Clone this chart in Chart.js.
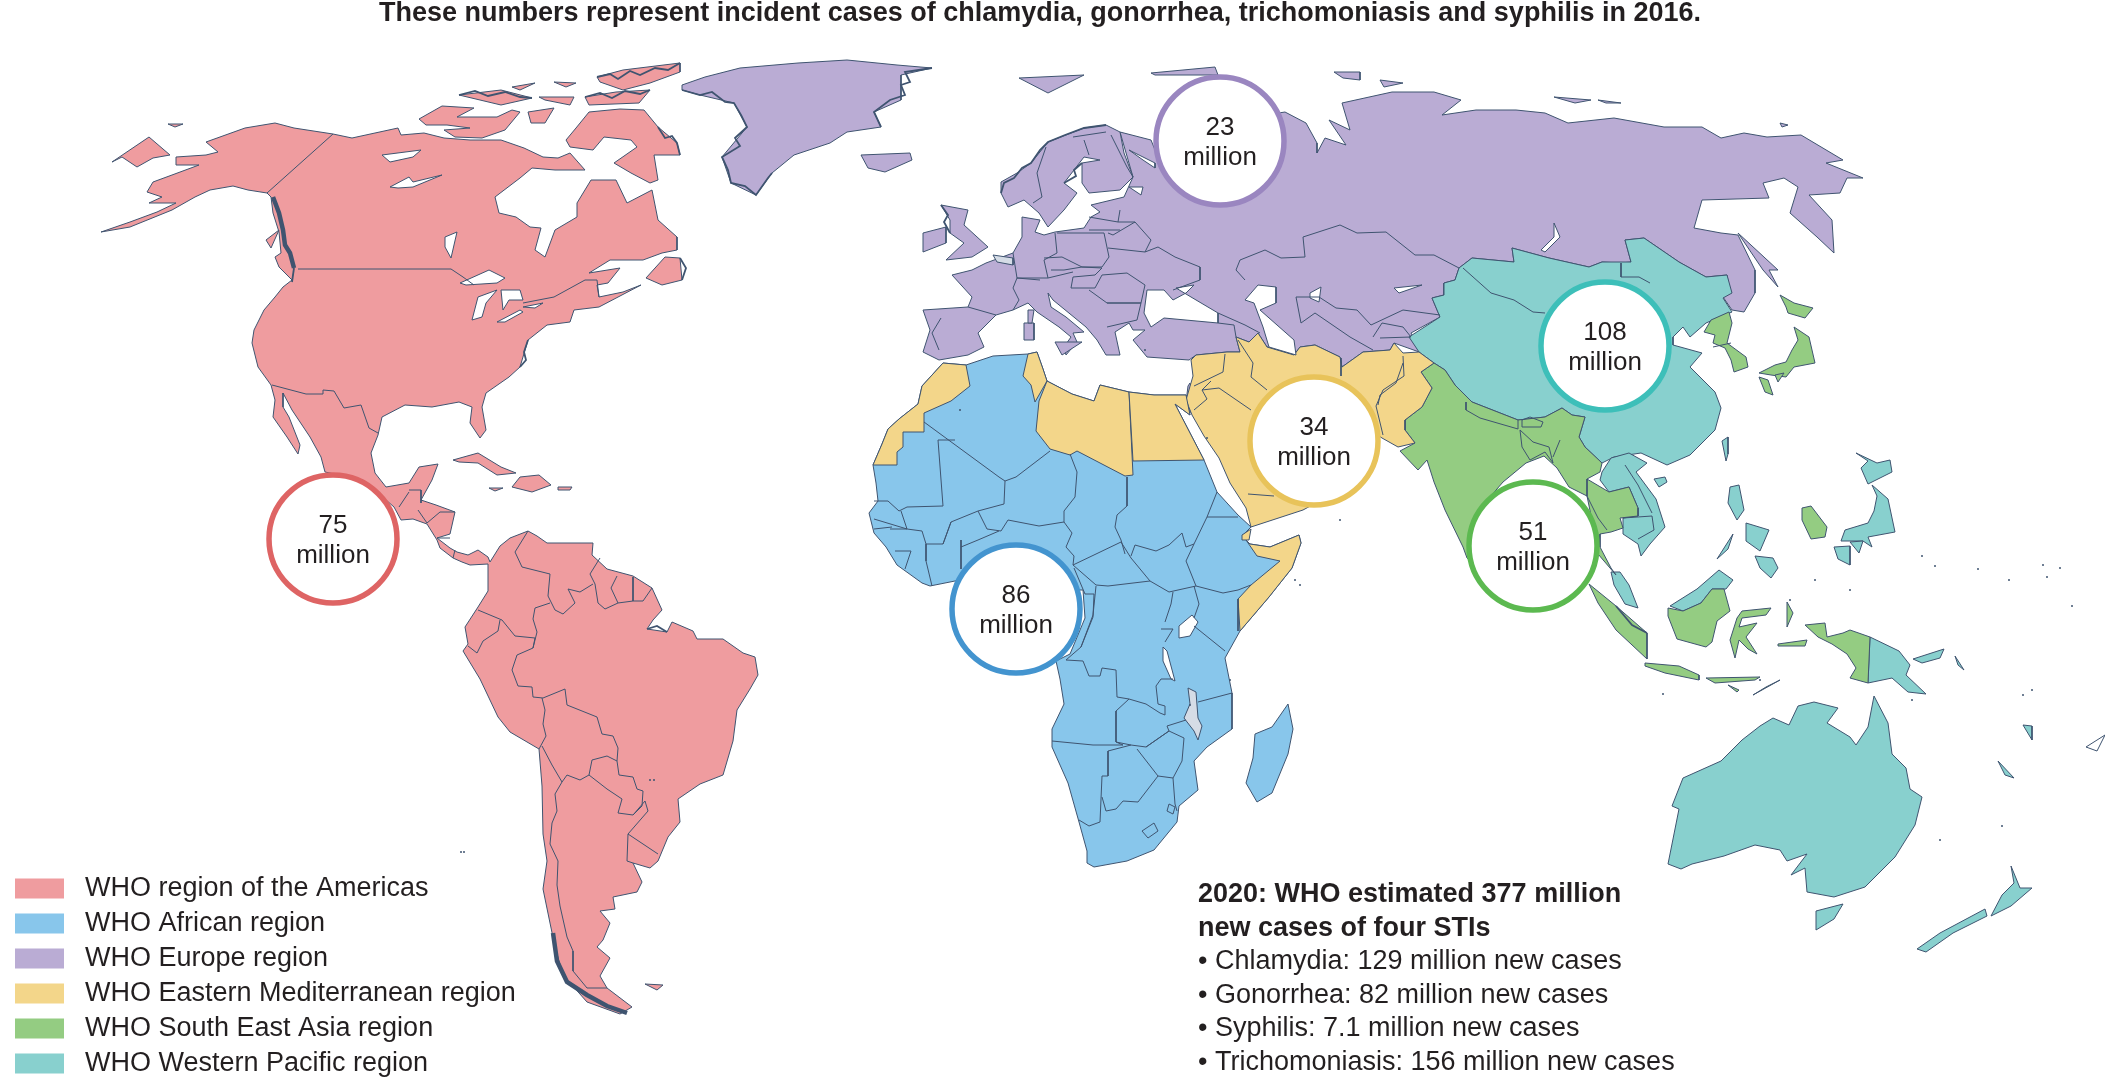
<!DOCTYPE html>
<html>
<head>
<meta charset="utf-8">
<style>
  html, body { margin: 0; padding: 0; background: #fff; height: 1077px; overflow: hidden; }
  canvas { display: block; }
</style>
<script src="https://cdn.jsdelivr.net/npm/chart.js@4/dist/chart.umd.min.js"></script>
</head>
<body>
<canvas id="mapChart" width="2105" height="1112"></canvas>
<script>
const titleText = 'These numbers represent incident cases of chlamydia, gonorrhea, trichomoniasis and syphilis in 2016.';
const regionLabels = ['WHO region of the Americas', 'WHO African region', 'WHO Europe region', 'WHO Eastern Mediterranean region', 'WHO South East Asia region', 'WHO Western Pacific region'];
const circleValues = [75, 86, 23, 34, 51, 108];
const circleX = [333, 1016, 1220, 1314, 1533, 1605];
const circleY = [539, 609, 141, 441, 546, 346];
const noteHeading = ['2020: WHO estimated 377 million', 'new cases of four STIs'];
const noteLines = ['• Chlamydia: 129 million new cases', '• Gonorrhea: 82 million new cases', '• Syphilis: 7.1 million new cases', '• Trichomoniasis: 156 million new cases'];

const americasShapes = [
  [101,232,130,222,157,212,176,203,149,203,162,197,147,192,153,182,172,175,199,165,176,165,176,157,206,155,218,152,206,142,245,128,275,123,294,128,333,134,352,138,398,128,401,135,424,133,444,138,470,140,501,140,524,148,543,157,558,158,570,153,585,170,555,170,532,168,520,178,495,197,499,213,516,217,530,227,541,228,535,250,545,257,555,230,577,217,577,203,591,180,616,180,627,203,652,190,658,220,677,237,677,250,662,253,643,260,610,260,589,273,620,268,608,283,597,285,599,297,623,292,641,285,599,307,574,310,570,322,547,325,528,340,520,367,509,377,486,393,482,407,486,430,480,438,470,423,472,407,459,402,432,407,405,405,382,417,378,435,371,453,375,473,386,487,409,483,419,467,438,464,432,480,421,500,436,505,455,512,450,534,437,538,450,548,457,552,468,555,478,550,488,557,490,562,500,546,510,538,528,531,537,536,547,543,573,543,593,543,592,555,607,569,633,576,652,588,662,610,653,620,647,629,667,632,672,622,693,631,697,639,723,639,743,653,755,657,758,675,750,689,737,710,733,741,723,775,700,784,678,799,680,822,668,837,658,861,650,868,633,863,642,882,637,892,613,897,615,909,600,911,610,923,603,940,597,947,610,958,600,976,607,988,632,1007,620,1014,587,1002,563,975,555,947,550,923,543,889,547,861,543,834,542,786,539,749,510,732,498,717,480,679,463,651,468,644,465,627,478,607,488,591,488,564,470,565,462,562,453,558,440,548,437,540,427,524,413,519,401,520,394,507,363,480,325,472,321,457,310,437,292,410,283,393,283,407,289,417,300,445,298,454,287,437,273,417,275,400,271,385,258,367,252,343,254,330,264,310,275,297,283,287,292,280,279,267,275,257,281,253,279,232,273,213,271,197,267,193,248,190,233,186,210,190,195,197,172,210,130,227],
  [576,128,589,112,620,109,644,110,658,127,677,143,680,155,669,155,654,155,658,180,650,183,631,173,614,163,637,147,631,140,604,137,593,150,570,147,566,140],
  [419,119,442,106,474,108,457,117,497,117,512,110,520,112,505,130,482,138,455,137,444,130,470,128,447,125,426,125],
  [528,112,554,108,545,123,531,123],
  [597,77,623,70,680,63,680,72,650,83,623,90,600,82],
  [585,97,616,92,650,90,639,103,589,105],
  [459,95,501,90,532,98,501,105],
  [554,82,576,83,566,87],
  [512,87,535,83,520,90],
  [539,97,574,97,570,105,545,100],
  [646,278,665,257,680,258,682,280,662,285],
  [112,162,149,137,170,155,153,158,137,167,122,157],
  [168,124,183,124,175,127],
  [266,240,279,230,271,248],
  [453,460,478,453,501,467,516,473,497,475,478,463,459,462],
  [520,477,539,475,551,485,532,492,512,487],
  [489,488,503,488,495,491],
  [558,487,572,487,570,490,558,490],
  [645,984,663,985,657,990]
];
const africaShapes = [
  [873,465,882,444,888,429,899,419,918,404,922,386,943,363,966,365,993,356,1028,354,1037,352,1043,369,1047,381,1072,394,1094,401,1100,385,1129,392,1154,395,1186,395,1190,415,1175,404,1204,460,1217,492,1238,515,1251,527,1242,536,1250,544,1270,547,1299,535,1301,543,1292,568,1269,597,1240,631,1225,658,1232,693,1232,729,1207,747,1194,761,1198,790,1179,806,1177,822,1154,850,1127,861,1094,867,1087,863,1087,851,1079,822,1068,783,1052,747,1052,729,1064,704,1060,679,1056,661,1070,654,1085,618,1083,590,1050,590,1010,575,955,581,930,586,922,583,897,565,886,547,874,533,869,513,878,501,876,483],
  [1288,704,1293,729,1288,754,1272,793,1257,802,1246,783,1253,758,1255,734,1272,727]
];
const europeShapes = [
  [923,310,968,307,972,297,952,275,972,270,986,263,1013,253,1022,237,1022,217,1040,220,1035,232,1044,235,1055,232,1084,228,1091,217,1100,212,1091,205,1124,197,1133,177,1120,132,1151,140,1155,150,1170,130,1285,112,1306,123,1317,143,1317,153,1325,138,1346,145,1329,120,1350,130,1342,103,1392,92,1434,92,1461,100,1442,115,1476,110,1516,110,1545,113,1568,123,1614,118,1664,127,1702,127,1721,138,1744,133,1767,137,1801,135,1843,160,1826,163,1863,178,1847,178,1840,193,1809,195,1832,220,1834,253,1817,237,1790,213,1798,187,1784,178,1763,183,1769,198,1702,200,1694,228,1721,233,1738,235,1755,270,1755,293,1744,312,1732,310,1723,297,1730,293,1727,275,1706,277,1679,262,1644,238,1625,240,1631,262,1620,263,1602,262,1589,267,1549,258,1512,248,1514,262,1472,258,1459,268,1455,280,1444,283,1444,295,1432,298,1440,317,1411,333,1422,353,1394,343,1390,350,1363,352,1342,367,1340,357,1315,345,1300,347,1294,355,1267,347,1258,333,1249,342,1236,337,1240,352,1227,352,1196,355,1189,360,1147,357,1133,340,1145,330,1133,330,1129,323,1115,332,1120,355,1106,355,1097,340,1086,327,1053,300,1048,293,1051,307,1066,317,1084,332,1073,333,1077,342,1066,355,1064,347,1071,337,1059,327,1037,312,1028,303,1013,310,996,315,978,333,984,347,968,355,939,360,923,352,930,330],
  [1001,182,1017,173,1031,163,1048,142,1084,128,1106,125,1120,132,1124,153,1133,177,1120,190,1089,193,1082,183,1082,163,1100,160,1084,157,1064,183,1077,193,1064,210,1048,227,1039,213,1024,200,1008,207,1001,193],
  [682,85,705,77,740,68,798,63,847,60,897,65,932,68,901,75,901,100,874,112,881,127,847,132,830,143,794,155,772,173,756,195,731,183,722,157,747,127,734,103,700,95,682,90],
  [861,155,910,153,912,160,885,172,868,168],
  [941,205,968,210,964,225,988,247,972,257,946,260,964,243,950,233,950,220],
  [923,233,946,227,946,243,923,252],
  [1019,78,1084,75,1048,93],
  [1151,73,1215,67,1218,75,1155,75],
  [1055,342,1082,342,1062,355],
  [1024,323,1034,323,1034,340,1024,340],
  [1028,310,1034,310,1032,323,1028,323],
  [1738,233,1778,270,1769,270,1778,287,1763,270],
  [1188,386,1190,383,1192,392,1190,413,1186,402],
  [1554,97,1591,100,1575,103],
  [1598,100,1621,103,1606,103],
  [1380,80,1403,83,1384,87],
  [1334,72,1360,72,1360,80,1343,78],
  [1780,123,1788,125,1782,127]
];
const emroShapes = [
  [1193,376,1191,360,1196,355,1227,352,1240,352,1236,337,1249,342,1258,333,1267,347,1294,355,1300,347,1315,345,1340,357,1342,367,1363,352,1390,350,1394,343,1403,353,1419,352,1434,363,1421,372,1432,388,1422,407,1405,420,1405,430,1415,443,1398,447,1382,438,1370,430,1330,420,1300,440,1330,470,1340,490,1303,510,1251,527,1246,508,1230,483,1219,458,1204,436,1192,415,1186,400],
  [873,465,897,465,897,452,903,447,903,432,924,432,924,413,951,401,970,386,966,365,943,363,922,386,918,404,899,419,888,429,882,444],
  [1037,352,1043,369,1047,381,1035,402,1031,385,1023,376,1028,354],
  [1047,381,1072,394,1094,401,1100,385,1129,392,1133,475,1125,476,1077,451,1070,455,1050,449,1036,431,1039,401],
  [1129,392,1154,395,1186,395,1190,415,1175,404,1204,460,1133,461],
  [1240,631,1269,597,1292,568,1301,543,1299,535,1270,547,1250,544,1246,540,1257,556,1280,561,1251,585,1238,599],
  [1242,535,1251,529,1249,540,1242,540]
];
const searoShapes = [
  [1421,372,1434,363,1445,370,1455,385,1472,402,1518,420,1545,417,1562,408,1572,415,1585,417,1579,437,1585,447,1602,463,1600,472,1587,479,1609,492,1629,487,1638,508,1638,516,1620,518,1623,528,1611,532,1600,534,1600,547,1611,568,1616,575,1598,554,1594,530,1587,496,1569,487,1557,468,1544,456,1526,463,1503,482,1490,497,1480,530,1490,580,1467,558,1463,547,1445,510,1434,482,1427,460,1418,470,1400,451,1415,443,1405,430,1405,420,1422,407,1432,388],
  [1729,312,1732,323,1727,343,1746,357,1748,367,1734,372,1731,360,1725,348,1713,343,1715,335,1704,332,1711,320],
  [1780,295,1794,303,1813,308,1805,318,1788,313,1786,307],
  [1794,327,1809,337,1815,363,1794,367,1786,377,1771,375,1759,373,1775,365,1786,362,1792,350,1798,340],
  [1759,377,1768,380,1773,395,1765,392],
  [1775,375,1784,373,1778,382],
  [1802,508,1811,506,1827,527,1825,537,1811,539,1802,520],
  [1668,608,1683,611,1701,603,1712,589,1724,589,1730,611,1717,621,1712,642,1706,647,1677,639,1668,616],
  [1589,584,1616,606,1647,633,1647,659,1616,630,1598,603],
  [1645,663,1679,666,1699,675,1699,680,1665,673,1645,666],
  [1706,678,1760,677,1755,680,1715,683],
  [1753,695,1780,680,1766,687],
  [1728,685,1739,690,1737,692],
  [1730,640,1737,618,1742,611,1771,608,1766,615,1742,618,1739,627,1757,623,1746,637,1757,654,1748,649,1739,640,1735,658],
  [1787,602,1793,613,1787,627],
  [1805,625,1825,623,1827,637,1843,633,1850,630,1870,637,1868,683,1850,678,1856,668,1847,654,1832,644,1818,637],
  [1778,644,1807,640,1805,646,1778,646]
];
const wproShapes = [
  [1459,268,1472,258,1514,262,1512,248,1549,258,1589,267,1602,262,1631,262,1625,240,1644,238,1679,262,1706,277,1727,275,1732,293,1723,298,1732,312,1706,323,1690,337,1683,327,1673,337,1673,345,1702,353,1690,367,1715,392,1721,408,1715,430,1690,455,1667,465,1641,453,1614,457,1602,463,1585,447,1579,437,1585,417,1572,415,1562,408,1545,417,1518,420,1472,402,1455,385,1445,370,1434,363,1419,352,1409,337,1440,317,1432,298,1444,295,1444,283,1455,280],
  [1602,472,1611,458,1629,453,1647,463,1636,472,1656,499,1665,527,1650,544,1641,556,1638,544,1623,534,1623,518,1638,516,1638,508,1629,487,1609,492,1600,480],
  [1611,572,1620,572,1629,585,1638,608,1625,604,1614,585],
  [1654,479,1665,477,1667,482,1659,487],
  [1722,441,1728,437,1728,454,1726,461],
  [1856,453,1877,463,1890,460,1892,472,1868,484,1861,468,1868,461],
  [1872,485,1888,499,1895,532,1868,537,1872,547,1863,541,1841,541,1845,530,1868,523,1874,511,1877,496],
  [1850,542,1863,541,1859,553],
  [1834,547,1850,546,1850,565,1838,559],
  [1730,487,1739,485,1744,510,1737,520,1728,503],
  [1746,523,1769,530,1760,551,1746,541],
  [1755,556,1773,558,1778,568,1771,578,1760,568],
  [1717,559,1733,534,1728,549],
  [1670,606,1697,589,1719,570,1733,580,1726,589,1712,589,1701,603,1683,611],
  [1870,637,1899,651,1910,665,1906,675,1926,694,1908,692,1892,678,1868,683],
  [1913,659,1944,649,1940,658,1922,663],
  [1955,656,1964,670,1958,665],
  [1998,761,2014,778,2005,775],
  [2023,725,2032,726,2032,740],
  [2086,747,2105,735,2097,751],
  [1668,864,1679,809,1672,806,1683,778,1721,761,1742,740,1760,726,1773,718,1789,725,1798,706,1814,702,1838,708,1827,723,1850,737,1856,745,1868,727,1874,696,1888,723,1892,754,1906,768,1910,789,1922,797,1915,825,1895,857,1865,887,1834,897,1807,892,1805,868,1791,875,1807,854,1787,861,1780,850,1755,845,1724,856,1692,864,1681,869],
  [1816,911,1843,904,1834,919,1816,930],
  [2011,866,2020,888,2032,888,2011,906,1991,916,2002,895,2014,883],
  [1985,909,1987,916,1953,933,1926,952,1917,949,1940,933]
];
const lakeShapes = [
  [460,283,489,270,505,278,497,283,466,285],
  [472,320,478,297,497,290,486,303,482,317],
  [501,290,520,290,523,300,509,300,503,310],
  [497,322,520,310,523,312,505,322],
  [523,307,543,303,535,308],
  [445,237,457,232,451,258,445,247],
  [390,187,409,177,413,182,442,175,413,187,398,188],
  [382,155,421,150,413,157,390,162],
  [1144,313,1147,290,1164,290,1173,300,1186,293,1194,285,1176,288,1191,297,1218,313,1218,323,1164,318,1151,327],
  [1245,300,1258,285,1276,287,1276,303,1260,310,1294,340,1296,355,1269,347,1263,327,1254,303],
  [1310,293,1321,287,1319,302,1310,298],
  [1394,288,1422,285,1399,293],
  [1554,223,1560,237,1545,252,1541,250,1554,237],
  [1129,187,1143,187,1141,195],
  [1129,150,1155,163,1155,168,1143,160],
  [1179,626,1192,615,1198,622,1190,636,1179,638],
  [1163,647,1167,651,1175,681,1171,679,1163,661]
];
const greyShapes = [
  [1188,688,1196,692,1198,718,1202,726,1198,740,1194,731,1184,718,1190,704],
  [993,255,1013,258,1013,265,997,262]
];
const borderLines = [
  [333,134,267,193],
  [298,269,451,269,463,277,474,285],
  [523,303,554,297,585,280,597,280,599,297],
  [272,385,306,394,323,394,323,390,334,391,344,408,361,405,369,428,378,433],
  [409,490,421,490,421,503],[409,492,399,507],[418,510,427,523,440,512,455,512],[437,538,450,538],[455,550,453,558],
  [528,531,515,552,522,567,550,574,548,596,555,610,563,614,575,603,568,589,580,592,593,584],
  [600,558,590,574,595,584,598,603,605,609,618,603,611,588,617,576],
  [633,577,633,601],[618,603,633,601,643,601,652,588],
  [550,603,535,608,533,619,537,632,533,648,535,638,515,636,502,620,478,610],
  [500,620,498,631,483,641,477,653,468,646],
  [533,648,517,655,512,670,518,686,532,687,533,697,543,698,565,689],
  [542,698,545,710,543,724,546,736,539,749],
  [565,689,567,705,597,717,602,734,613,736,618,748,617,761],
  [617,761,607,756,592,760,589,775,580,780,567,775,562,782],
  [542,746,552,765,562,782],
  [617,761,619,775,633,777,637,789,643,791,642,806,633,815],
  [589,775,607,789,622,799,618,813,633,815,645,801,648,811,628,834],
  [628,834,658,854],[628,834,627,861,633,863],
  [562,782,555,794,557,811,552,823,550,844,558,861,557,885,560,906,567,937,573,951,573,971,587,988,607,988],
  [924,422,999,477,1005,481,1016,477,1050,451],
  [938,440,943,506,907,507,899,511,888,501,874,501],[938,440,955,440],
  [1005,481,1004,504,978,511,951,522,943,544,926,544,922,531,907,529,901,511],
  [978,511,987,529,1001,531,1008,520,1039,526,1064,522,1064,511,1075,497,1077,472,1070,454],
  [1127,477,1127,506,1117,515,1115,527,1121,540,1125,554],
  [1064,522,1072,533,1066,547,1074,556,1073,565,1096,554,1121,542],
  [1073,565,1096,585,1108,586,1150,581,1131,558,1121,542],
  [1131,556,1135,545,1156,551,1169,545,1182,533,1186,547,1194,544,1207,517,1217,492],
  [1207,517,1238,517],
  [1150,581,1169,592,1196,586,1186,561,1194,544],
  [1196,586,1223,593,1238,590,1251,585],
  [1173,592,1171,604,1165,622],[1194,586,1199,604,1194,618],
  [1194,626,1225,651],[1238,599,1238,631],
  [1096,586,1093,615,1081,647,1066,660,1083,661,1089,676,1100,676,1102,668,1116,670,1117,697,1129,699,1146,704,1160,713,1165,715,1165,706,1158,704,1156,686,1161,679,1173,679],
  [1129,699,1116,711,1116,742,1123,745,1093,745,1052,741],
  [1116,742,1131,745,1146,747,1169,731,1167,726,1186,720],
  [1198,702,1232,693],
  [1146,747,1169,731,1184,738,1182,761,1173,778,1158,776,1137,749],
  [1108,751,1131,745],[1108,751,1108,776,1102,776,1100,822,1089,826,1079,820],
  [1102,797,1106,811,1116,809,1123,801,1138,802,1158,776],
  [1173,778,1175,804,1177,811],
  [1142,831,1154,823,1158,831,1148,838,1142,831],
  [1169,804,1175,807,1173,814,1167,811,1169,804],
  [951,522,943,544],[961,547,978,540,999,531],[961,540,961,569],[926,544,926,561,932,586],
  [890,529,907,529],[874,519,907,529],[895,551,911,551,905,569],[874,529,892,527],
  [1074,568,1085,594,1094,594,1093,617,1081,647],
  [1161,629,1173,629,1165,642],
  [1225,354,1223,372,1194,386],[1211,381,1202,390,1207,399,1194,410],[1202,390,1219,388,1251,410],
  [1238,340,1253,363,1251,377,1267,390],[1341,358,1341,376],
  [1403,356,1404,376,1383,390,1376,406,1383,435],
  [1403,363,1396,383,1380,395,1378,405],
  [1248,494,1274,496],
  [941,318,932,333,939,350],[968,307,996,315],
  [1017,278,1013,288,1019,300,1013,310],
  [1013,253,1017,278,1048,278,1044,260,1057,253,1055,233],
  [1017,278,1040,280],
  [1044,258,1062,257,1082,267,1064,270,1051,270],
  [1057,233,1104,233,1109,257,1102,267,1082,267],
  [1082,267,1102,268,1095,275,1073,277],[1073,277,1071,288,1095,288,1102,275],[1048,278,1073,272],
  [1102,275,1127,273,1145,285,1141,303,1107,303,1089,290],
  [1107,303,1141,303,1137,320,1107,327],
  [1108,233,1113,235,1135,222,1151,240,1145,252,1108,248],
  [1145,252,1158,247,1175,257,1200,267,1200,280,1173,290],
  [1089,217,1118,222],[1089,230,1120,230],[1120,210,1118,222,1135,222],
  [1046,147,1037,173,1042,197,1033,203],[1084,140,1089,155],[1111,135,1127,167,1133,177],[1073,137,1106,132],
  [1236,270,1240,260,1265,250,1281,258,1305,257,1303,237,1340,225,1357,233,1386,232,1415,255,1434,255,1459,268],
  [1236,270,1245,280],
  [1296,297,1319,297,1336,308,1357,310,1371,325,1403,310,1440,315],[1296,297,1301,323],
  [1301,323,1315,313,1350,337,1373,350],
  [1373,337,1382,323,1403,327,1411,337,1380,338],
  [1218,313,1245,325,1260,333],[1218,323,1234,325,1236,337],
  [1463,268,1491,293,1514,300,1533,312,1545,313],
  [1621,263,1621,277,1639,277,1650,283],
  [1466,402,1466,410,1480,418,1518,429,1518,420],
  [1522,420,1530,417,1543,422,1541,427,1522,427,1522,420],
  [1520,430,1522,447,1530,460,1545,452,1553,463,1549,447,1533,442,1520,430],
  [1560,440,1553,457],[1587,479,1587,496,1598,518,1607,530],
  [1625,465,1638,485,1652,513],[1623,518,1652,516,1654,530,1638,539],
  [1713,347,1731,343]
];
const fjordLines = [
  [294,268,292,282],
  [1001,193,1004,183,1014,178,1022,168,1031,163,1040,150,1048,142,1065,135,1084,128,1106,125],
  [682,90,700,95,712,92,725,102,734,103,741,115,747,127,735,138,740,146,722,157,728,170,731,183,745,186,756,195,768,178,772,173],
  [932,68,905,72,910,82,901,85,905,95,890,100,874,112,881,127],
  [597,77,610,74,618,79,630,71,640,75,655,68,668,70,680,63],
  [585,97,600,93,612,98,625,91,640,94,650,90],
  [459,95,475,91,488,96,505,92,520,97,532,98],
  [658,127,665,138,672,136,677,143,680,155],[680,258,686,268,682,280],
  [528,340,524,352,526,360,520,367],
  [647,629,657,626,667,632],[941,205,948,215,944,222,950,233],[1647,633,1632,625,1616,606],
  [1082,163,1074,170,1076,176,1064,183]
];
const heavyLines = [
  [273,197,279,213,283,230,285,245,290,253,294,268],
  [553,933,557,961,567,982,587,995,607,1006,627,1013]
];
const isletX = [461,464,1922,1935,1978,2043,2060,2047,2009,2072,2081,2023,2032,2002,1940,1912,1760,1850,1815,1790,1663,1295,1300,1207,1335,1340,650,654,1145,1230,1190,960];
const isletY = [852,852,556,566,569,565,568,577,580,606,623,695,690,826,840,700,680,590,580,600,694,580,585,438,480,520,780,780,350,680,705,410];

const regionColors = ['#ef9c9f', '#88c6eb', '#baacd4', '#f3d68a', '#94cc82', '#88d0ce'];
const ringColors = ['#de6464', '#4394cf', '#9a86c0', '#e8c35a', '#5cb950', '#3dbfb9'];
const circleRegion = [0, 1, 2, 3, 4, 5];
const coastColor = '#3f5470';
const textColor = '#231f20';
const fontFamily = '"Liberation Sans", Arial, sans-serif';
const titleSize = 27;
// the insets place the library's title and legend where the picture has them
const insetLeft = 7;
const insetRight = 32;

function toPoints(flat, closed) {
    const pts = [];
    for (let i = 0; i < flat.length; i += 2) pts.push({ x: flat[i], y: flat[i + 1] });
    if (closed) pts.push({ x: flat[0], y: flat[1] });
    return pts;
}

const datasets = [];

function addShapes(shapes, color, label) {
    shapes.forEach((shape, i) => {
        datasets.push({
            label: i === 0 ? label : '',
            data: toPoints(shape, true),
            showLine: true,
            fill: 'shape',
            backgroundColor: color,
            borderColor: coastColor,
            borderWidth: 1,
            pointRadius: 0,
            clip: false
        });
    });
}

function addLines(lines, width, color) {
    lines.forEach(line => {
        datasets.push({
            label: '',
            data: toPoints(line, false),
            showLine: true,
            fill: false,
            borderColor: color,
            borderWidth: width,
            pointRadius: 0,
            clip: false
        });
    });
}

// later datasets go on top, so the legend datasets stay first by index
addShapes(americasShapes, regionColors[0], regionLabels[0]);
addShapes(africaShapes, regionColors[1], regionLabels[1]);
addShapes(europeShapes, regionColors[2], regionLabels[2]);
addShapes(wproShapes, regionColors[5], regionLabels[5]);
addShapes(searoShapes, regionColors[4], regionLabels[4]);
addShapes(emroShapes, regionColors[3], regionLabels[3]);
addShapes(lakeShapes, '#ffffff', '');
addShapes(greyShapes, '#d5dce6', '');
addLines(borderLines, 1, coastColor);
addLines(fjordLines, 1.8, coastColor);
addLines(heavyLines, 4.5, coastColor);

datasets.push({
    label: '',
    data: isletX.map((x, i) => ({ x: x, y: isletY[i] })),
    pointRadius: 1,
    pointBackgroundColor: coastColor,
    pointBorderWidth: 0
});
datasets.push({
    label: '',
    data: circleX.map((x, i) => ({ x: x, y: circleY[i] })),
    pointRadius: 64,
    pointBackgroundColor: '#ffffff',
    pointBorderColor: circleRegion.map(r => ringColors[r]),
    pointBorderWidth: 5.5,
    clip: false
});
datasets.forEach((d, i) => { d.order = datasets.length - i; });

const mapText = {
    id: 'mapText',
    afterDraw(chart) {
        const { ctx, scales } = chart;
        ctx.save();
        ctx.fillStyle = textColor;
        ctx.textAlign = 'center';
        ctx.textBaseline = 'middle';
        ctx.font = '26px ' + fontFamily;
        circleValues.forEach((v, i) => {
            const px = scales.x.getPixelForValue(circleX[i]);
            const py = scales.y.getPixelForValue(circleY[i]);
            ctx.fillText(String(v), px, py - 13);
            ctx.fillText('million', px, py + 17);
        });
        ctx.textAlign = 'left';
        const noteX = scales.x.getPixelForValue(1198);
        ctx.font = 'bold 27px ' + fontFamily;
        noteHeading.forEach((line, i) => {
            ctx.fillText(line, noteX, scales.y.getPixelForValue(895 + i * 33.5));
        });
        ctx.font = '27px ' + fontFamily;
        noteLines.forEach((line, i) => {
            ctx.fillText(line, noteX, scales.y.getPixelForValue(962 + i * 33.5));
        });
        ctx.restore();
    }
};

new Chart(document.getElementById('mapChart'), {
    type: 'scatter',
    data: { datasets: datasets },
    plugins: [mapText],
    options: {
        responsive: false,
        animation: false,
        events: [],
        layout: { autoPadding: false, padding: { left: insetLeft, right: insetRight } },
        scales: {
            x: { type: 'linear', display: false, min: insetLeft, max: 2105 - insetRight },
            y: { type: 'linear', display: false, reverse: true, min: titleSize, max: 1112 }
        },
        plugins: {
            tooltip: { enabled: false },
            title: {
                display: true,
                text: titleText,
                color: textColor,
                padding: 0,
                font: { family: fontFamily, size: titleSize, weight: 'bold', lineHeight: 1 }
            },
            legend: {
                position: 'chartArea',
                align: 'end',
                labels: {
                    boxWidth: 49,
                    boxHeight: 20,
                    padding: 8,
                    color: textColor,
                    font: { family: fontFamily, size: 27 },
                    generateLabels(chart) {
                        const out = [];
                        regionLabels.forEach(text => {
                            const index = chart.data.datasets.findIndex(d => d.label === text);
                            out.push({
                                text: ' ' + text,
                                fillStyle: chart.data.datasets[index].backgroundColor,
                                lineWidth: 0,
                                strokeStyle: 'transparent',
                                fontColor: textColor,
                                datasetIndex: index
                            });
                        });
                        return out;
                    }
                }
            }
        }
    }
});
</script>
</body>
</html>
